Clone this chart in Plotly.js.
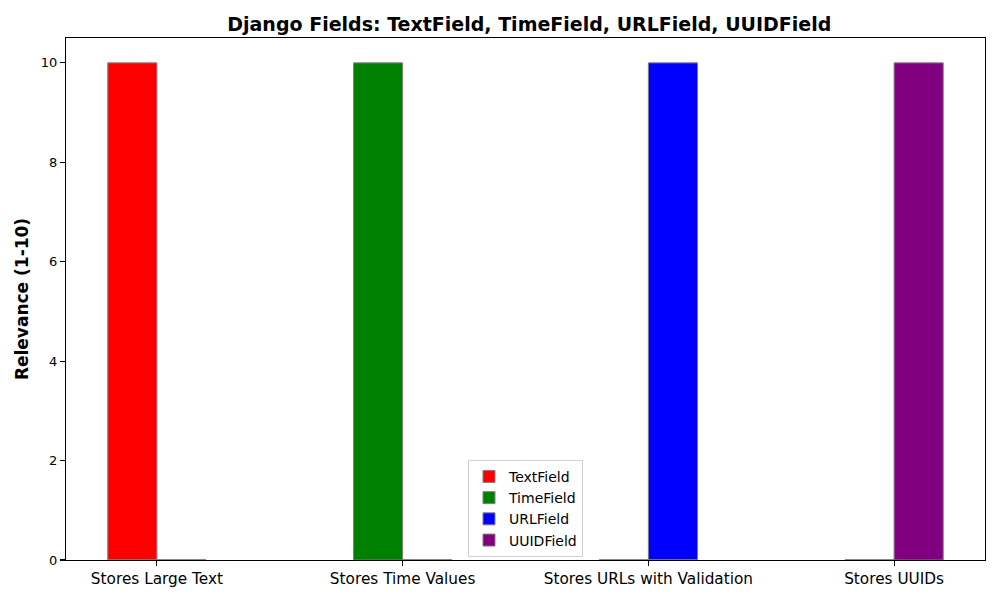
<!DOCTYPE html>
<html>
<head>
<meta charset="utf-8">
<script src="https://cdn.plot.ly/plotly-3.0.1.min.js"></script>
<style>html,body{margin:0;padding:0;background:#fff;}#chart{width:1000px;height:600px;}</style>
</head>
<body>
<div id="chart"></div>
<script>
const categories = ["Stores Large Text", "Stores Time Values", "Stores URLs with Validation", "Stores UUIDs"];
const seriesNames = ["TextField", "TimeField", "URLField", "UUIDField"];
const textField = [10, 0, 0, 0];
const timeField = [0, 10, 0, 0];
const urlField = [0, 0, 10, 0];
const uuidField = [0, 0, 0, 10];
const yTicks = [0, 2, 4, 6, 8, 10];

const seriesValues = [textField, timeField, urlField, uuidField];
const colors = ["red", "green", "blue", "purple"];
const groups = ["a", "a", "b", "b"];

const traces = seriesValues.map((vals, i) => ({
  type: "bar",
  name: seriesNames[i],
  x: categories,
  y: vals,
  offsetgroup: groups[i],
  marker: {color: colors[i], line: {color: "#808080", width: 1}},
  hoverinfo: "x+y+name"
}));

const font = "DejaVu Sans, sans-serif";
const layout = {
  width: 1000, height: 600,
  paper_bgcolor: "#fff", plot_bgcolor: "#fff",
  margin: {l: 66, r: 15, t: 38, b: 40},
  barmode: "group", bargap: 0.6, bargroupgap: 0,
  title: {text: "<b>Django Fields: TextField, TimeField, URLField, UUIDField</b>",
          font: {family: font, size: 19, color: "#000"}, x: 0.5293, xanchor: "center", y: 0.96, yanchor: "middle"},
  xaxis: {
    type: "category", range: [-0.37, 3.37],
    showgrid: false, zeroline: false,
    showline: true, linecolor: "#000", linewidth: 1.1, mirror: true,
    ticks: "outside", ticklen: 5, tickwidth: 1.1, tickcolor: "#000",
    tickfont: {family: font, size: 15.3, color: "#000"}
  },
  yaxis: {
    range: [0, 10.5], tickvals: yTicks, ticktext: yTicks.map(String),
    showgrid: false, zeroline: false,
    showline: true, linecolor: "#000", linewidth: 1.1, mirror: true,
    ticks: "outside", ticklen: 5, tickwidth: 1.1, tickcolor: "#000",
    tickfont: {family: font, size: 13, color: "#000"},
    title: {text: "<b>Relevance (1-10)</b>", font: {family: font, size: 17, color: "#000"}, standoff: 7}
  },
  legend: {
    x: 0.5, xanchor: "center", y: 0.006, yanchor: "bottom",
    bgcolor: "rgba(255,255,255,0.85)", bordercolor: "#d0d0d0", borderwidth: 1,
    font: {family: font, size: 14, color: "#000"},
    tracegroupgap: 2, itemwidth: 30
  },
  showlegend: true
};

Plotly.newPlot("chart", traces, layout, {displayModeBar: false, staticPlot: true});
</script>
</body>
</html>
